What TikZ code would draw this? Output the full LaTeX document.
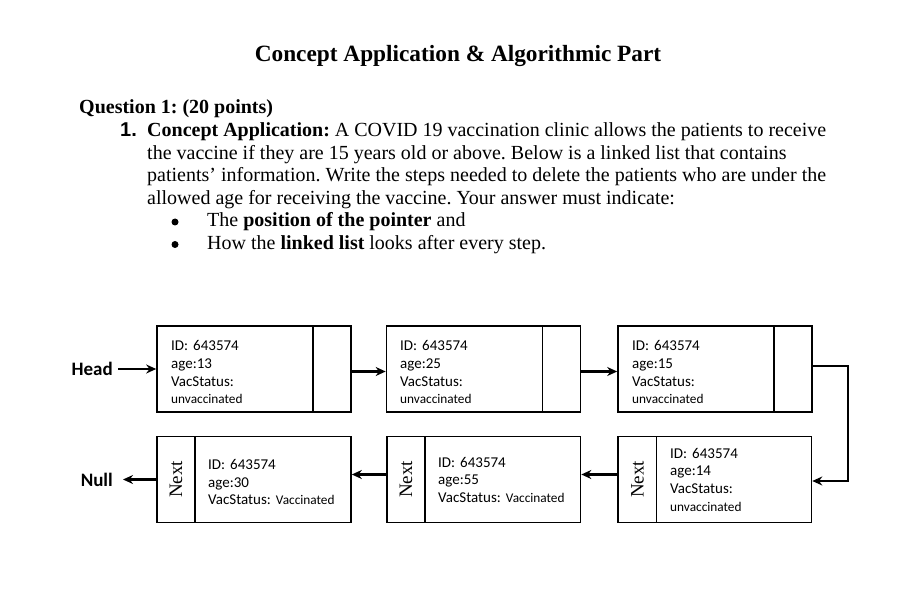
\documentclass[tikz,border=0pt]{standalone}
\usepackage{fontspec}
\setmainfont{Liberation Serif}
\newfontfamily\calibrifont{Carlito}
\newfontfamily\arialfont{Liberation Sans}
\usetikzlibrary{arrows.meta}
\frenchspacing
\tikzstyle{patient} = [
    rectangle,
    minimum width=194pt,
    minimum height=86pt,
    line width=1.6pt,
    draw=black
]
\tikzstyle{pointer} = [
    rectangle,
    minimum width=38pt,
    minimum height=86pt,
    line width=1.6pt,
    draw=black
]
\tikzstyle{nextcell} = [
    rectangle,
    rotate=90,
    minimum width=86pt,
    minimum height=38pt,
    line width=1.6pt,
    draw=black,
    font=\fontsize{19}{22}\selectfont
]
\tikzstyle{info} = [
    anchor=base west,
    inner sep=0pt,
    text width=150pt,
    align=left,
    font=\calibrifont\fontsize{15}{17.7}\selectfont
]
\tikzstyle{endlabel} = [
    anchor=east,
    inner sep=0pt,
    font=\calibrifont\bfseries\fontsize{19}{22}\selectfont
]
\tikzstyle{textline} = [
    anchor=base west,
    inner sep=0pt,
    font=\fontsize{20}{22.5}\selectfont
]
\tikzstyle{bulletdot} = [
    circle,
    fill=black,
    inner sep=0pt,
    minimum size=7pt
]
\tikzstyle{arrow} = [line width=2.4pt, -{Stealth[length=10pt,width=9pt]}]

\begin{document}
\frenchspacing
\begin{tikzpicture}[x=1pt, y=-1pt]
\useasboundingbox (0,0) rectangle (898,599);

% question text
\node (title) [anchor=base, font=\bfseries\fontsize{23.3}{28}\selectfont]
at (458,61.7) {Concept Application \& Algorithmic Part};

\node (question) [textline, font=\bfseries\fontsize{20}{22.5}\selectfont]
at (79,113.3) {Question 1: (20 points)};

\node (num) [textline, font=\arialfont\bfseries\fontsize{20}{22.5}\selectfont]
at (120,136.7) {1.};

\node (intro) [textline, text width=679pt, align=justify] at (147,136.7)
{\spaceskip=5pt plus 2pt minus 2.4pt\hyphenpenalty=10000\relax
\textbf{Concept Application:} A COVID 19 vaccination clinic allows the patients to receive\linebreak
the vaccine if they are 15 years old or above. Below is a linked list that contains\\
patients’ information. Write the steps needed to delete the patients who are under the\linebreak
allowed age for receiving the vaccine. Your answer must indicate:};

\node (dot1) [bulletdot] at (175,222) {};
\node (item1) [textline] at (207,226.7) {The \textbf{position of the pointer} and};

\node (dot2) [bulletdot] at (175,244.5) {};
\node (item2) [textline] at (207,249.2) {How the \textbf{linked list} looks after every step.};

% top row
\node (b1) [patient] at (254,369) {};
\node (p1) [pointer, anchor=east] at (b1.east) {};
\node (t1) [info] at (171,350.7)
{ID: 643574\\age:13\\VacStatus:\\{\fontsize{13.3}{17.7}\selectfont unvaccinated}};

\node (b2) [patient] at (483.5,369) {};
\node (p2) [pointer, anchor=east] at (b2.east) {};
\node (t2) [info] at (400,350.7)
{ID: 643574\\age:25\\VacStatus:\\{\fontsize{13.3}{17.7}\selectfont unvaccinated}};

\node (b3) [patient] at (715,369) {};
\node (p3) [pointer, anchor=east] at (b3.east) {};
\node (t3) [info] at (632,350.7)
{ID: 643574\\age:15\\VacStatus:\\{\fontsize{13.3}{17.7}\selectfont unvaccinated}};

% bottom row
\node (b4) [patient] at (254,479.5) {};
\node (n4) [nextcell] at (176,479.5) {Next};
\node (t4) [info] at (208,469.3)
{ID: 643574\\age:30\\VacStatus: {\fontsize{13.3}{17.7}\selectfont Vaccinated}};

\node (b5) [patient] at (483.5,479.5) {};
\node (n5) [nextcell] at (406,479.5) {Next};
\node (t5) [info] at (438,467)
{ID: 643574\\age:55\\VacStatus: {\fontsize{13.3}{17.7}\selectfont Vaccinated}};

\node (b6) [patient] at (714.5,479.5) {};
\node (n6) [nextcell] at (637.5,479.5) {Next};
\node (t6) [info] at (670,458)
{ID: 643574\\age:14\\VacStatus:\\{\fontsize{13.3}{17.7}\selectfont unvaccinated}};

\node (head) [endlabel] at (113,369) {Head};
\node (null) [endlabel] at (113,479.5) {Null};

\draw [arrow, shorten <=5pt] (head) -- (b1);
\draw [arrow] ([yshift=-2.5pt]p1.east) -- ([yshift=-2.5pt]b2.west);
\draw [arrow] ([yshift=-2.5pt]p2.east) -- ([yshift=-2.5pt]b3.west);
\draw [arrow] ([yshift=3pt]p3.east) -- ++(35,0) |- ([yshift=-1.5pt]b6.east);
\draw [arrow] ([yshift=5pt]b6.west) -- ([yshift=5pt]b5.east);
\draw [arrow] ([yshift=5pt]b5.west) -- ([yshift=5pt]b4.east);
\draw [arrow, shorten >=10pt] (n4) -- (null);

\end{tikzpicture}
\end{document}
